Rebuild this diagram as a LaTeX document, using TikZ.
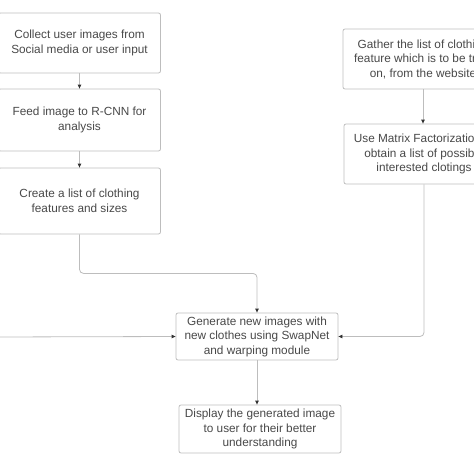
\documentclass[tikz,border=0pt]{standalone}
\usepackage{fontspec}
\setmainfont{Liberation Sans}
\usepackage{xcolor}
\usetikzlibrary{arrows.meta,positioning}

\definecolor{linegray}{HTML}{BDBDBD}
\definecolor{textgray}{HTML}{484848}
\definecolor{tipgray}{HTML}{333333}

\begin{document}
\begin{tikzpicture}[
  x=1pt, y=1pt,
  box/.style={draw=linegray, line width=0.8pt, rounded corners=2pt, minimum width=162pt, align=center,
    text=textgray, font=\fontsize{11.8}{14.5}\selectfont, inner sep=2pt},
  arrow/.style={draw=linegray, line width=0.8pt, -{Triangle[length=4pt, width=3.5pt, color=tipgray]}},
]
\clip (0,0) rectangle (474,-474);
\useasboundingbox (0,0) rectangle (474,-474);

% Left column
\node[box, minimum height=60pt] (collect) at (79.5,-43) {Collect user images from\\Social media or user input};
\node[box, minimum height=62pt] (feed) at (79.5,-120) {Feed image to R-CNN for\\analysis};
\node[box, minimum height=66pt] (create) at (79.5,-201) {Create a list of clothing\\features and sizes};

% Right column
\node[box, minimum width=160pt, minimum height=60pt] (gather) at (423,-59) {Gather the list of clothing\\feature which is to be tried\\on, from the website};
\node[box, minimum width=160pt, minimum height=60pt] (matrix) at (424,-154) {Use Matrix Factorization to\\obtain a list of possible\\interested clotings};

% Bottom
\node[box, minimum height=47pt] (generate) at (257,-336.5) {Generate new images with\\new clothes using SwapNet\\and warping module};
\node[box, minimum height=48pt] (display) at (260,-429) {Display the generated image\\to user for their better\\understanding};

\coordinate (leftin) at (-5,-337);

% Arrows
\draw[arrow] (collect) -- (feed);
\draw[arrow] (feed) -- (create);
\draw[arrow] (gather) -- (gather |- matrix.north);
\draw[arrow, rounded corners=4pt] (create.south) -- ++(0,-39) -| (generate.north);
\draw[arrow, rounded corners=4pt] (matrix.south) |- (generate.east);
\draw[arrow] (leftin) -- (generate.west);
\draw[arrow] (generate.south) -- (generate.south |- display.north);

\end{tikzpicture}
\end{document}
